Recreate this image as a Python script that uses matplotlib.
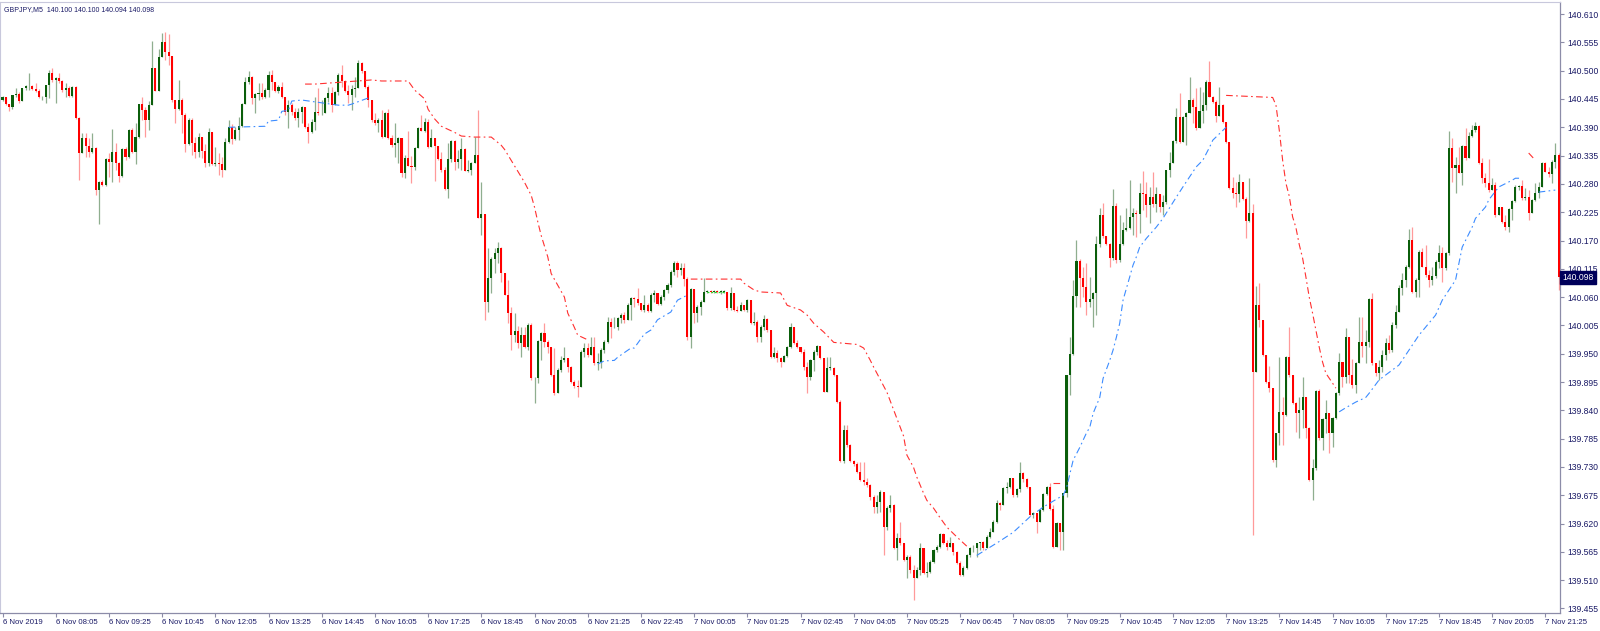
import numpy as np
import matplotlib.pyplot as plt
from matplotlib.transforms import blended_transform_factory

plt.rcParams['font.family'] = ['Liberation Sans', 'DejaVu Sans']

# GBPJPY M5 bars, prices in thousandths above 139.000 (open = previous close)
first_open = 1443
close_k = [
    1448, 1435, 1429, 1452, 1454, 1441, 1466, 1470, 1470, 1464,
    1460, 1448, 1448, 1472, 1495, 1482, 1485, 1480, 1462, 1466,
    1450, 1468, 1408, 1340, 1369, 1353, 1342, 1349, 1268, 1283,
    1277, 1328, 1322, 1342, 1320, 1295, 1347, 1332, 1384, 1342,
    1371, 1435, 1423, 1404, 1433, 1505, 1460, 1526, 1555, 1536,
    1528, 1443, 1425, 1443, 1413, 1357, 1404, 1359, 1342, 1371,
    1344, 1320, 1380, 1318, 1320, 1318, 1307, 1361, 1390, 1367,
    1384, 1392, 1435, 1478, 1487, 1447, 1454, 1456, 1448, 1462,
    1491, 1478, 1460, 1468, 1448, 1419, 1433, 1419, 1408, 1419,
    1429, 1390, 1380, 1400, 1419, 1417, 1417, 1447, 1456, 1433,
    1458, 1491, 1480, 1460, 1452, 1464, 1466, 1515, 1499, 1468,
    1443, 1404, 1398, 1404, 1371, 1417, 1369, 1355, 1359, 1369,
    1301, 1330, 1314, 1312, 1349, 1388, 1382, 1400, 1351, 1369,
    1353, 1328, 1307, 1270, 1328, 1363, 1322, 1328, 1347, 1305,
    1307, 1320, 1336, 1213, 1221, 1050, 1097, 1134, 1145, 1155,
    1106, 1064, 1029, 986, 994, 970, 986, 963, 1005, 902,
    902, 974, 990, 972, 963, 908, 873, 918, 937, 941,
    924, 895, 887, 885, 953, 961, 947, 963, 932, 934,
    957, 972, 1011, 1001, 1001, 1019, 1025, 1015, 1044, 1058,
    1056, 1048, 1035, 1044, 1033, 1064, 1068, 1046, 1060, 1074,
    1083, 1108, 1126, 1112, 1116, 1095, 982, 1075, 1029, 1040,
    1050, 1070, 1071, 1070, 1071, 1070, 1070, 1070, 1038, 1068,
    1035, 1033, 1044, 1035, 1054, 1009, 1011, 982, 1001, 1017,
    996, 943, 951, 941, 933, 945, 963, 1001, 970, 963,
    953, 924, 904, 937, 953, 965, 941, 875, 922, 922,
    908, 856, 741, 801, 772, 741, 735, 720, 704, 700,
    694, 671, 652, 661, 681, 613, 650, 656, 572, 591,
    582, 549, 554, 529, 514, 529, 572, 523, 525, 545,
    568, 574, 599, 582, 574, 582, 564, 543, 519, 533,
    558, 572, 572, 582, 584, 572, 593, 603, 622, 659,
    656, 689, 691, 708, 675, 687, 718, 706, 691, 636,
    640, 622, 646, 677, 691, 648, 574, 621, 603, 679,
    908, 949, 1062, 1130, 1097, 1079, 1050, 1056, 1068, 1163,
    1219, 1178, 1163, 1136, 1237, 1132, 1163, 1190, 1194, 1215,
    1223, 1221, 1262, 1260, 1239, 1254, 1241, 1260, 1235, 1244,
    1307, 1320, 1363, 1410, 1361, 1410, 1417, 1443, 1429, 1388,
    1421, 1433, 1478, 1448, 1439, 1412, 1433, 1400, 1361, 1272,
    1262, 1260, 1283, 1250, 1208, 1223, 914, 1044, 1015, 947,
    895, 883, 743, 795, 836, 830, 943, 908, 854, 834,
    840, 865, 805, 704, 728, 877, 786, 823, 834, 795,
    825, 873, 934, 904, 982, 908, 889, 932, 972, 965,
    972, 1056, 932, 912, 924, 947, 970, 957, 1005, 1031,
    1077, 1093, 1118, 1171, 1070, 1093, 1147, 1118, 1103, 1093,
    1101, 1128, 1145, 1116, 1145, 1349, 1310, 1316, 1301, 1353,
    1330, 1373, 1384, 1392, 1320, 1291, 1281, 1268, 1277, 1219,
    1235, 1206, 1196, 1231, 1247, 1274, 1276, 1252, 1254, 1223,
    1249, 1262, 1274, 1320, 1303, 1299, 1322, 1336, 1100, 1098,
]
high_k = [
    1450, 1445, 1433, 1452, 1466, 1458, 1466, 1472, 1495, 1472,
    1476, 1464, 1450, 1472, 1501, 1505, 1487, 1495, 1482, 1476,
    1470, 1470, 1470, 1410, 1379, 1379, 1369, 1379, 1351, 1285,
    1287, 1330, 1340, 1386, 1359, 1322, 1349, 1351, 1386, 1388,
    1398, 1435, 1448, 1429, 1441, 1557, 1505, 1542, 1573, 1575,
    1571, 1528, 1439, 1482, 1447, 1417, 1408, 1408, 1371, 1379,
    1371, 1357, 1388, 1380, 1351, 1340, 1332, 1369, 1404, 1396,
    1390, 1410, 1437, 1487, 1499, 1489, 1456, 1476, 1476, 1466,
    1499, 1501, 1478, 1472, 1478, 1448, 1443, 1437, 1427, 1427,
    1431, 1429, 1398, 1406, 1448, 1466, 1443, 1448, 1468, 1468,
    1460, 1495, 1511, 1482, 1472, 1472, 1487, 1520, 1517, 1497,
    1472, 1439, 1417, 1408, 1423, 1419, 1425, 1375, 1398, 1371,
    1369, 1336, 1382, 1334, 1351, 1390, 1413, 1408, 1406, 1386,
    1369, 1353, 1342, 1312, 1359, 1365, 1365, 1345, 1369, 1349,
    1326, 1322, 1371, 1423, 1283, 1221, 1155, 1138, 1155, 1167,
    1157, 1103, 1093, 1040, 1029, 1003, 1001, 1001, 1009, 1009,
    904, 976, 992, 1009, 976, 961, 961, 922, 945, 963,
    941, 926, 898, 898, 957, 970, 970, 982, 982, 951,
    961, 976, 1021, 1019, 1021, 1021, 1029, 1031, 1048, 1060,
    1060, 1077, 1048, 1064, 1048, 1068, 1074, 1068, 1064, 1076,
    1087, 1112, 1130, 1130, 1126, 1126, 1099, 1077, 1075, 1044,
    1054, 1097, 1073, 1073, 1073, 1073, 1073, 1073, 1070, 1079,
    1068, 1042, 1050, 1042, 1056, 1054, 1031, 1015, 1005, 1025,
    1019, 996, 963, 957, 943, 947, 965, 1009, 1001, 976,
    963, 959, 933, 939, 957, 967, 965, 941, 943, 943,
    924, 908, 860, 811, 811, 774, 743, 739, 739, 739,
    708, 697, 675, 675, 685, 681, 654, 675, 657, 601,
    622, 582, 558, 558, 539, 535, 582, 572, 545, 549,
    570, 578, 601, 601, 588, 594, 582, 566, 547, 537,
    560, 574, 578, 582, 584, 586, 597, 611, 626, 665,
    662, 691, 700, 708, 708, 689, 739, 720, 708, 691,
    642, 640, 648, 679, 693, 698, 656, 622, 621, 679,
    908, 982, 1093, 1171, 1134, 1118, 1126, 1099, 1070, 1178,
    1233, 1242, 1178, 1165, 1270, 1242, 1219, 1206, 1233, 1287,
    1233, 1229, 1281, 1305, 1283, 1274, 1303, 1274, 1260, 1258,
    1307, 1342, 1365, 1427, 1456, 1412, 1419, 1487, 1447, 1466,
    1468, 1458, 1482, 1518, 1450, 1443, 1468, 1435, 1400, 1355,
    1293, 1283, 1299, 1283, 1254, 1291, 1241, 1081, 1087, 1015,
    945, 926, 883, 796, 943, 866, 945, 1001, 908, 856,
    866, 904, 865, 807, 745, 879, 881, 825, 860, 834,
    827, 875, 951, 934, 1000, 982, 939, 934, 1021, 1021,
    996, 1058, 1068, 932, 937, 957, 980, 986, 1011, 1044,
    1083, 1106, 1122, 1193, 1196, 1097, 1151, 1155, 1161, 1112,
    1118, 1132, 1161, 1157, 1147, 1382, 1369, 1332, 1351, 1355,
    1388, 1380, 1394, 1400, 1394, 1330, 1301, 1328, 1291, 1283,
    1235, 1235, 1219, 1233, 1249, 1277, 1277, 1287, 1272, 1268,
    1250, 1281, 1283, 1322, 1322, 1312, 1326, 1359, 1340, 1100,
]
low_k = [
    1441, 1433, 1421, 1425, 1448, 1437, 1441, 1462, 1462, 1462,
    1458, 1447, 1443, 1437, 1447, 1478, 1437, 1476, 1458, 1448,
    1448, 1448, 1406, 1287, 1340, 1332, 1332, 1340, 1258, 1202,
    1276, 1276, 1293, 1283, 1307, 1283, 1293, 1326, 1330, 1340,
    1318, 1369, 1404, 1371, 1384, 1433, 1460, 1460, 1526, 1520,
    1511, 1439, 1398, 1423, 1379, 1342, 1355, 1336, 1330, 1332,
    1330, 1312, 1314, 1316, 1314, 1297, 1293, 1307, 1359, 1357,
    1365, 1365, 1390, 1435, 1474, 1435, 1417, 1443, 1445, 1447,
    1448, 1462, 1458, 1456, 1447, 1413, 1388, 1413, 1404, 1390,
    1398, 1388, 1359, 1379, 1384, 1413, 1413, 1417, 1439, 1419,
    1437, 1452, 1468, 1458, 1437, 1423, 1448, 1466, 1495, 1466,
    1429, 1400, 1394, 1380, 1369, 1371, 1367, 1351, 1332, 1320,
    1293, 1291, 1314, 1281, 1307, 1349, 1382, 1380, 1349, 1351,
    1285, 1326, 1303, 1268, 1252, 1322, 1307, 1310, 1307, 1305,
    1303, 1297, 1320, 1213, 1180, 1015, 1031, 1068, 1106, 1126,
    1089, 1064, 1009, 957, 972, 961, 943, 961, 957, 898,
    855, 893, 937, 963, 951, 906, 869, 873, 914, 933,
    914, 893, 883, 865, 885, 943, 943, 953, 928, 918,
    922, 951, 970, 980, 1000, 996, 1009, 1009, 1021, 1015,
    1040, 1044, 1033, 1031, 1031, 1031, 1050, 1044, 1044, 1054,
    1068, 1079, 1103, 1099, 1103, 1081, 976, 961, 1009, 1011,
    1025, 1050, 1068, 1068, 1068, 1068, 1066, 1068, 1035, 1035,
    1033, 1031, 1035, 1033, 1031, 1007, 1005, 972, 972, 996,
    992, 941, 941, 933, 924, 933, 943, 961, 968, 961,
    951, 918, 873, 898, 916, 947, 939, 875, 875, 918,
    906, 854, 739, 737, 768, 739, 731, 718, 702, 694,
    691, 665, 640, 640, 642, 558, 607, 642, 570, 549,
    578, 547, 514, 523, 471, 514, 519, 521, 516, 523,
    543, 564, 572, 580, 568, 574, 558, 541, 518, 518,
    531, 554, 564, 554, 568, 568, 572, 592, 603, 621,
    646, 656, 679, 689, 671, 671, 681, 700, 689, 634,
    630, 601, 624, 644, 675, 646, 572, 578, 568, 568,
    671, 869, 947, 1040, 1040, 1060, 1025, 1040, 1001, 1025,
    1157, 1174, 1161, 1118, 1132, 1126, 1128, 1161, 1188, 1192,
    1180, 1176, 1184, 1229, 1215, 1204, 1235, 1225, 1225, 1219,
    1241, 1293, 1320, 1359, 1359, 1361, 1355, 1417, 1398, 1384,
    1388, 1398, 1423, 1448, 1437, 1400, 1413, 1398, 1359, 1270,
    1252, 1235, 1244, 1248, 1174, 1206, 597, 933, 1001, 945,
    893, 875, 739, 730, 772, 772, 829, 904, 852, 798,
    787, 805, 787, 702, 665, 724, 782, 762, 795, 757,
    768, 823, 869, 885, 893, 893, 883, 873, 932, 943,
    932, 963, 928, 906, 898, 914, 937, 951, 953, 1000,
    1031, 1064, 1079, 1116, 1068, 1060, 1060, 1118, 1099, 1079,
    1083, 1097, 1116, 1089, 1112, 1141, 1283, 1262, 1301, 1277,
    1326, 1332, 1371, 1380, 1318, 1281, 1274, 1264, 1268, 1215,
    1219, 1204, 1190, 1186, 1210, 1244, 1268, 1249, 1249, 1210,
    1223, 1247, 1252, 1274, 1303, 1293, 1281, 1310, 1074, 1094,
]

# trailing-stop style indicator lines: bar index and price (thousandths)
red1_i = [91, 94, 111, 114, 122, 124, 127, 128, 130, 132, 136, 138, 142, 147, 150,
          151, 157, 159, 160, 161, 162, 164, 165, 167, 169, 170, 172, 173, 176]
red1_p = [1474, 1474, 1482, 1480, 1480, 1462, 1445, 1425, 1406, 1392, 1380, 1373, 1371,
          1371, 1355, 1347, 1283, 1258, 1235, 1206, 1180, 1138, 1106, 1083, 1060, 1029,
          1001, 986, 977]
red2_i = [207, 222, 223, 226, 228, 234, 236, 240, 242, 244, 247, 250, 257, 259, 261,
          262, 266, 268, 271, 272, 274, 275, 277, 278, 280, 282, 284, 287, 289, 290]
red2_p = [1095, 1095, 1087, 1074, 1070, 1068, 1044, 1035, 1025, 1009, 992, 972, 968,
          961, 937, 924, 875, 841, 790, 753, 729, 710, 679, 665, 650, 631, 613, 594,
          582, 576]
red3_i = [316, 318]
red3_p = [698, 698]
red4_i = [368, 382, 383, 384, 385, 386, 387, 388, 389, 390, 391, 392, 393, 394, 395,
          396, 397, 398, 400, 401]
red4_p = [1452, 1448, 1433, 1384, 1326, 1281, 1256, 1216, 1195, 1162, 1136, 1099,
          1060, 1029, 996, 963, 934, 912, 893, 883]
red5_i = [459, 461]
red5_p = [1340, 1326]

blue1_i = [68, 79, 80, 83, 84, 86, 87, 90, 101, 104, 105, 110]
blue1_p = [1390, 1392, 1402, 1404, 1421, 1423, 1441, 1443, 1433, 1433, 1435, 1447]
blue2_i = [179, 181, 184, 185, 189, 190, 193, 195, 197, 201, 203, 206]
blue2_p = [930, 936, 937, 943, 961, 961, 988, 996, 1016, 1031, 1054, 1064]
blue3_i = [293, 297, 300, 304, 306, 308, 309, 313, 319, 320, 322, 324, 326, 327, 328,
           330, 331, 333, 334, 335, 336, 337, 339, 340, 341, 342, 344, 347, 349, 353,
           355, 359, 361, 363, 364, 368]
blue3_p = [558, 574, 586, 603, 615, 627, 633, 652, 675, 689, 743, 768, 796, 807, 834,
           865, 902, 937, 957, 982, 1009, 1054, 1099, 1122, 1138, 1157, 1174, 1196,
           1213, 1254, 1274, 1313, 1326, 1351, 1365, 1390]
blue4_i = [402, 404, 407, 410, 411, 414, 420, 426, 431, 433, 437, 439, 442, 443, 446,
           447, 450, 454, 455, 457]
blue4_p = [837, 845, 856, 865, 873, 899, 928, 986, 1025, 1054, 1093, 1157, 1196, 1213,
           1235, 1249, 1274, 1287, 1291, 1291]
blue5_i = [462, 467]
blue5_p = [1264, 1268]

green_i = [212, 217]
green_p = [1070, 1070]

time_labels = ['6 Nov 2019', '6 Nov 08:05', '6 Nov 09:25', '6 Nov 10:45', '6 Nov 12:05',
               '6 Nov 13:25', '6 Nov 14:45', '6 Nov 16:05', '6 Nov 17:25', '6 Nov 18:45',
               '6 Nov 20:05', '6 Nov 21:25', '6 Nov 22:45', '7 Nov 00:05', '7 Nov 01:25',
               '7 Nov 02:45', '7 Nov 04:05', '7 Nov 05:25', '7 Nov 06:45', '7 Nov 08:05',
               '7 Nov 09:25', '7 Nov 10:45', '7 Nov 12:05', '7 Nov 13:25', '7 Nov 14:45',
               '7 Nov 16:05', '7 Nov 17:25', '7 Nov 18:45', '7 Nov 20:05', '7 Nov 21:25']
bars_per_label = 16
price_levels = [140.610, 140.555, 140.500, 140.445, 140.390, 140.335, 140.280, 140.225,
                140.170, 140.115, 140.060, 140.005, 139.950, 139.895, 139.840, 139.785,
                139.730, 139.675, 139.620, 139.565, 139.510, 139.455]
last_price = 140.098
title = 'GBPJPY,M5  140.100 140.100 140.094 140.098'


def px(v):
    return 139 + np.asarray(v, dtype=float) / 1000


n = min(len(close_k), len(high_k), len(low_k))
c = px(close_k[:n])
o = np.r_[px(first_open), c[:-1]]
h = np.maximum(px(high_k[:n]), np.maximum(o, c))
l = np.minimum(px(low_k[:n]), np.minimum(o, c))
x = np.arange(n)
up = c >= o
dn = ~up

navy = '#1a1a66'
axis_col = '#8c8ca8'

fig = plt.figure(figsize=(16, 6.31), dpi=100)
ax = fig.add_axes([0, 18 / 631, 1560 / 1600, 611 / 631])

# wicks
ax.vlines(x[up], l[up], h[up], color='#8fae8f', lw=0.9, zorder=2)
ax.vlines(x[dn], l[dn], h[dn], color='#ff9a9a', lw=0.9, zorder=2)
# bodies
body = np.maximum(np.abs(c - o), 0.0012)
ax.bar(x[up], body[up], bottom=o[up], width=0.62, color='#0b5e0b', linewidth=0, zorder=3)
ax.bar(x[dn], body[dn], bottom=c[dn], width=0.62, color='#ff0000', linewidth=0, zorder=3)

dashdot = (0, (6, 3, 1.5, 3))
for ii, pp in [(red1_i, red1_p), (red2_i, red2_p), (red3_i, red3_p),
               (red4_i, red4_p), (red5_i, red5_p)]:
    ax.plot(ii, px(pp), color='#ff3030', lw=0.8, ls=dashdot, zorder=4)
for ii, pp in [(blue1_i, blue1_p), (blue2_i, blue2_p), (blue3_i, blue3_p),
               (blue4_i, blue4_p), (blue5_i, blue5_p)]:
    ax.plot(ii, px(pp), color='#3c8cff', lw=0.8, ls=dashdot, zorder=4)
ax.plot(green_i, px(green_p), color='#22dd22', lw=0.9, ls=(0, (1.5, 1.5)), zorder=4)

ax.set_xlim(-0.752, 468.42)
ax.set_ylim(139.4461, 140.6335)

ax.yaxis.tick_right()
ax.set_yticks(price_levels)
ax.set_yticklabels([f'{v:.3f}' for v in price_levels])
ax.tick_params(axis='y', direction='out', length=3, width=0.8, color=axis_col,
               labelsize=6.2, labelcolor=navy, pad=2)

ax.set_xticks(np.arange(len(time_labels)) * bars_per_label)
ax.set_xticklabels(time_labels, ha='left')
ax.tick_params(axis='x', direction='out', length=3, width=0.8, color=axis_col,
               labelsize=5.6, labelcolor=navy, pad=1.5)

for side in ['left', 'top']:
    ax.spines[side].set_color('#c8c8dc')
for side in ['right', 'bottom']:
    ax.spines[side].set_color(axis_col)
    ax.spines[side].set_linewidth(0.9)

trans = blended_transform_factory(ax.transAxes, ax.transData)
ax.text(1.0015, last_price, f'{last_price:.3f}', transform=trans, ha='left', va='center',
        fontsize=6.2, color='white', clip_on=False,
        bbox=dict(boxstyle='square,pad=0.25', fc='#00005a', ec='#00005a'))

fig.text(4 / 1600, 1 - 10 / 631, title, fontsize=5.0, color=navy, va='center')

fig.savefig('out.png', dpi=100, facecolor='white')
